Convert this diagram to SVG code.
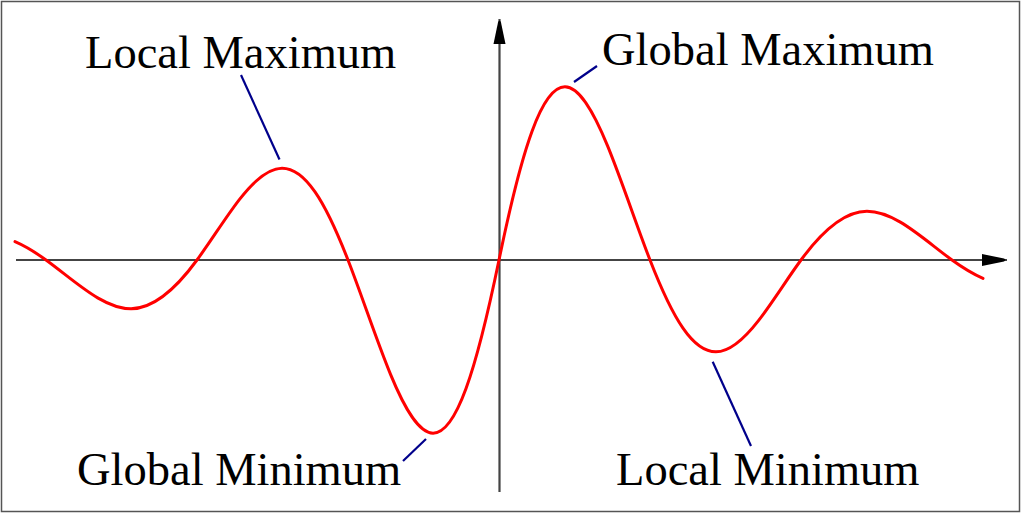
<svg xmlns="http://www.w3.org/2000/svg" width="1022" height="515" viewBox="0 0 1022 515">
<style>
.lbl{font-family:"Liberation Serif","DejaVu Serif",serif;font-size:46.5px;fill:#000}
.axis{stroke:#444;stroke-width:2.2;fill:none}
.curve{stroke:#ff0000;stroke-width:3;fill:none;stroke-linecap:round}
.lead{stroke:#00008b;stroke-width:2.2;fill:none}
</style>
<defs>
<marker id="arr" markerWidth="26" markerHeight="14" refX="25" refY="7" orient="auto" markerUnits="userSpaceOnUse">
<path d="M0,1 L22,5.6 Q25,7 22,8.4 L0,13 Z" fill="#000"/>
</marker>
</defs>
<rect x="1.5" y="1.5" width="1018" height="510" fill="#fff" stroke="#555" stroke-width="1.5"/>
<g id="connectors">
<line id="x-axis" class="axis" x1="16" y1="260" x2="1007" y2="260" marker-end="url(#arr)"/>
<line id="y-axis" class="axis" x1="499.5" y1="492" x2="499.5" y2="19" marker-end="url(#arr)"/>
<path id="curve" class="curve" d="M15,241.66 C25.33,246.11 35.67,252.53 46,260 C74.36,280.51 102.71,308.72 131.07,308.72 C153.05,308.72 175.02,289.97 197,260 C211.18,240.67 225.36,217.60 239.53,199.35 C253.71,181.10 267.89,168.16 282.07,168.16 C293.06,168.16 304.05,175.97 315.03,191.86 C326.02,207.75 337.01,231.75 348,260 C362.18,296.45 376.36,339.94 390.53,374.35 C404.71,408.76 418.89,433.14 433.07,433.14 C444.06,433.14 455.05,418.45 466.03,388.49 C477.02,358.53 488.01,313.27 499,260 C509.99,206.73 520.98,161.47 531.97,131.51 C542.95,101.55 553.94,86.86 564.93,86.86 C579.11,86.86 593.29,111.24 607.47,145.65 C621.64,180.06 635.82,223.55 650,260 C660.99,288.25 671.98,312.25 682.97,328.14 C693.95,344.03 704.94,351.84 715.93,351.84 C730.11,351.84 744.29,338.90 758.47,320.65 C772.64,302.40 786.82,279.33 801,260 C822.98,230.03 844.95,211.28 866.93,211.28 C895.29,211.28 923.64,239.49 952,260 C962.33,267.47 972.67,273.89 983,278.34"/>
<line class="lead" x1="241" y1="75" x2="279.5" y2="159.5"/>
<line class="lead" x1="597" y1="66" x2="574" y2="82"/>
<line class="lead" x1="426" y1="439" x2="403" y2="461"/>
<line class="lead" x1="712.7" y1="361.7" x2="751" y2="446"/>
</g>
<g id="local-maximum"><text class="lbl" x="85" y="68">Local Maximum</text></g>
<g id="global-maximum"><text class="lbl" x="602" y="65">Global Maximum</text></g>
<g id="global-minimum"><text class="lbl" x="77" y="484.5">Global Minimum</text></g>
<g id="local-minimum"><text class="lbl" x="616" y="484.5">Local Minimum</text></g>
</svg>
